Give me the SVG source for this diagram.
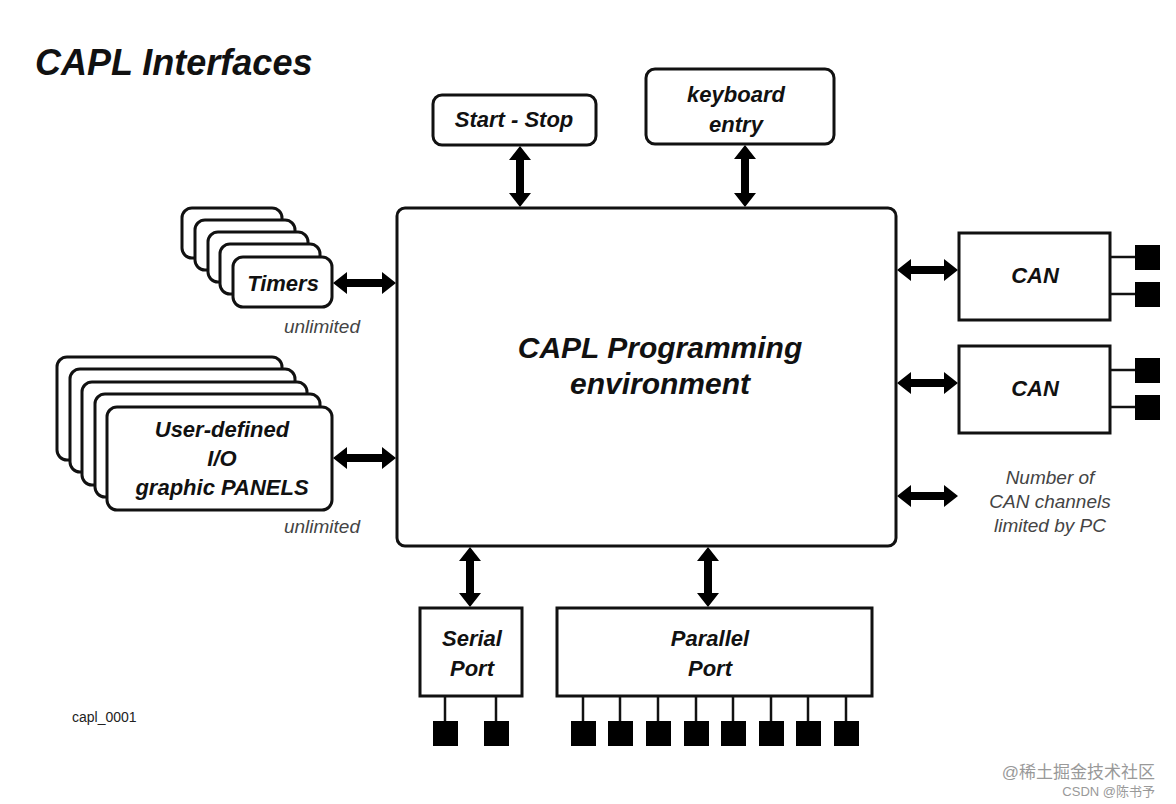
<svg xmlns="http://www.w3.org/2000/svg" width="1176" height="804" viewBox="0 0 1176 804">
<defs>
<style>
.b{fill:#fff;stroke:#111;stroke-width:3}
.t{font-family:"Liberation Sans",Arial,sans-serif;font-weight:bold;font-style:italic;fill:#111;text-anchor:middle}
.n{font-family:"Liberation Sans",Arial,sans-serif;font-style:italic;fill:#444;text-anchor:middle;font-size:19px}
.pin{fill:#000}
.ln{stroke:#111;stroke-width:2.5}
.ar{fill:#000}
</style>
</defs>
<rect width="1176" height="804" fill="#fff"/>
<text x="35" y="75" class="t" style="text-anchor:start;font-size:36px">CAPL Interfaces</text>

<g id="connectors">
<path class="ar" d="M520,146 l-11,14 h7 v33 h-7 l11,14 l11,-14 h-7 v-33 h7 z"/>
<path class="ar" d="M745,145 l-11,14 h7 v34 h-7 l11,14 l11,-14 h-7 v-34 h7 z"/>
<path class="ar" d="M470,547 l-11,14 h7 v32 h-7 l11,14 l11,-14 h-7 v-32 h7 z"/>
<path class="ar" d="M708,547 l-11,14 h7 v32 h-7 l11,14 l11,-14 h-7 v-32 h7 z"/>
<path class="ar" d="M333,283 l14,-11 v7 h35 v-7 l14,11 l-14,11 v-7 h-35 v7 z"/>
<path class="ar" d="M333,458 l14,-11 v7 h35 v-7 l14,11 l-14,11 v-7 h-35 v7 z"/>
<path class="ar" d="M897,270 l14,-11 v7 h33 v-7 l14,11 l-14,11 v-7 h-33 v7 z"/>
<path class="ar" d="M897,383 l14,-11 v7 h33 v-7 l14,11 l-14,11 v-7 h-33 v7 z"/>
<path class="ar" d="M897,496 l14,-11 v7 h33 v-7 l14,11 l-14,11 v-7 h-33 v7 z"/>
</g>

<g id="start-stop"><rect class="b" x="433" y="95" width="163" height="50" rx="9"/><text class="t" x="514" y="127" font-size="22">Start - Stop</text></g>
<g id="keyboard"><rect class="b" x="646" y="69" width="188" height="75" rx="9"/><text class="t" x="736" y="102" font-size="22">keyboard</text><text class="t" x="736" y="132" font-size="22">entry</text></g>
<g id="main"><rect class="b" x="397" y="208" width="499" height="338" rx="8"/><text class="t" x="660" y="358" font-size="30">CAPL Programming</text><text class="t" x="660" y="394" font-size="30">environment</text></g>

<g id="timers">
<rect class="b" x="182" y="208" width="100" height="50" rx="10"/>
<rect class="b" x="195" y="220" width="100" height="50" rx="10"/>
<rect class="b" x="208" y="232" width="100" height="50" rx="10"/>
<rect class="b" x="220" y="244" width="100" height="50" rx="10"/>
<rect class="b" x="233" y="257" width="99" height="50" rx="10"/>
<text class="t" x="283" y="291" font-size="22">Timers</text>
<text class="n" x="322" y="333">unlimited</text>
</g>

<g id="panels">
<rect class="b" x="57" y="357" width="225" height="103" rx="10"/>
<rect class="b" x="70" y="369" width="225" height="103" rx="10"/>
<rect class="b" x="82" y="382" width="225" height="103" rx="10"/>
<rect class="b" x="95" y="394" width="225" height="103" rx="10"/>
<rect class="b" x="107" y="407" width="225" height="103" rx="10"/>
<text class="t" x="222" y="437" font-size="22">User-defined</text>
<text class="t" x="222" y="466" font-size="22">I/O</text>
<text class="t" x="222" y="495" font-size="22">graphic PANELS</text>
<text class="n" x="322" y="533">unlimited</text>
</g>

<g id="can1">
<rect class="b" x="959" y="233" width="151" height="87"/>
<text class="t" x="1035" y="283" font-size="22">CAN</text>
<line class="ln" x1="1110" y1="257" x2="1136" y2="257"/><line class="ln" x1="1110" y1="294" x2="1136" y2="294"/>
<rect class="pin" x="1135" y="245" width="25" height="25"/><rect class="pin" x="1135" y="282" width="25" height="25"/>
</g>
<g id="can2">
<rect class="b" x="959" y="346" width="151" height="87"/>
<text class="t" x="1035" y="396" font-size="22">CAN</text>
<line class="ln" x1="1110" y1="370" x2="1136" y2="370"/><line class="ln" x1="1110" y1="407" x2="1136" y2="407"/>
<rect class="pin" x="1135" y="358" width="25" height="25"/><rect class="pin" x="1135" y="395" width="25" height="25"/>
</g>
<g id="can-note">
<text class="n" x="1050" y="484">Number of</text>
<text class="n" x="1050" y="508">CAN channels</text>
<text class="n" x="1050" y="532">limited by PC</text>
</g>

<g id="serial">
<rect class="b" x="420" y="608" width="102" height="88"/>
<text class="t" x="472" y="646" font-size="22">Serial</text><text class="t" x="472" y="676" font-size="22">Port</text>
<line class="ln" x1="445" y1="696" x2="445" y2="722"/><line class="ln" x1="496" y1="696" x2="496" y2="722"/>
<rect class="pin" x="433" y="721" width="25" height="25"/><rect class="pin" x="484" y="721" width="25" height="25"/>
</g>
<g id="parallel">
<rect class="b" x="557" y="608" width="315" height="88"/>
<text class="t" x="710" y="646" font-size="22">Parallel</text><text class="t" x="710" y="676" font-size="22">Port</text>
<g class="ln">
<line x1="583" y1="696" x2="583" y2="722"/><line x1="620" y1="696" x2="620" y2="722"/><line x1="658" y1="696" x2="658" y2="722"/><line x1="696" y1="696" x2="696" y2="722"/><line x1="733" y1="696" x2="733" y2="722"/><line x1="771" y1="696" x2="771" y2="722"/><line x1="808" y1="696" x2="808" y2="722"/><line x1="846" y1="696" x2="846" y2="722"/>
</g>
<rect class="pin" x="571" y="721" width="25" height="25"/><rect class="pin" x="608" y="721" width="25" height="25"/><rect class="pin" x="646" y="721" width="25" height="25"/><rect class="pin" x="684" y="721" width="25" height="25"/><rect class="pin" x="721" y="721" width="25" height="25"/><rect class="pin" x="759" y="721" width="25" height="25"/><rect class="pin" x="796" y="721" width="25" height="25"/><rect class="pin" x="834" y="721" width="25" height="25"/>
</g>

<text x="72" y="722" font-family="Liberation Sans,Arial,sans-serif" font-size="14" fill="#222">capl_0001</text>
<text x="1155" y="778" text-anchor="end" font-family="Liberation Sans,'Noto Sans CJK SC',sans-serif" font-size="17" fill="#999">@稀土掘金技术社区</text>
<text x="1155" y="796" text-anchor="end" font-family="Liberation Sans,'Noto Sans CJK SC',sans-serif" font-size="13" fill="#999">CSDN @陈书予</text>
</svg>
